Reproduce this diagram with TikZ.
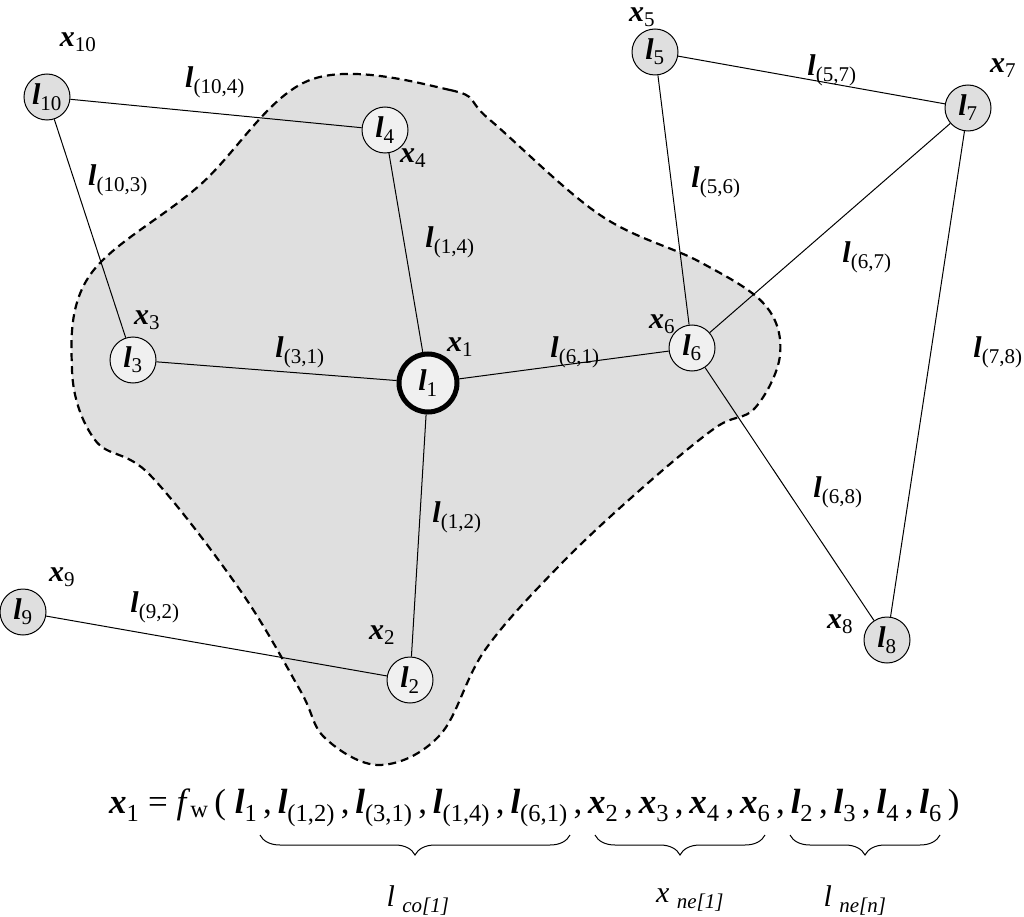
\documentclass[tikz,border=0pt]{standalone}
\usepackage{fontspec}
\setmainfont{Liberation Serif}
\usetikzlibrary{decorations.pathreplacing}
\newcommand{\bl}[1]{{\bfseries\itshape l}\textsubscript{\normalfont #1}}
\newcommand{\bx}[1]{{\bfseries\itshape x}\textsubscript{\normalfont #1}}
\begin{document}
\begin{tikzpicture}[x=1pt,y=-1pt,font=\fontsize{30}{34}\selectfont,
  nd/.style={circle,draw,line width=1pt,minimum size=46pt,inner sep=0pt},
  gn/.style={nd,fill=gray!25},
  wn/.style={nd,fill=gray!12},
  lab/.style={inner sep=1pt},
  ed/.style={draw,line width=1pt}]
\useasboundingbox (0,0) rectangle (1024,917);
\def\blob{(310,80)(450,90)(490,120)(600,215)(700,262)(765,305)(780,355)(755,408)(715,428)(640,490)(560,565)(485,650)(440,735)(380,765)(325,738)(300,690)(240,590)(150,475)(95,440)(72,370)(90,275)(200,185)}
\fill[gray!25] plot[smooth cycle,tension=0.6] coordinates{\blob};
\draw[line width=2.2pt,dash pattern=on 8pt off 5pt] plot[smooth cycle,tension=0.6] coordinates{\blob};
\node[gn] (n10) at (47,97) {\bl{10}};
\node[wn] (n4) at (385,130) {\bl{4}};
\node[wn] (n3) at (133,360) {\bl{3}};
\node[wn,line width=5pt,minimum size=58pt] (n1) at (428,383) {\bl{1}};
\node[wn] (n6) at (692,348) {\bl{6}};
\node[gn] (n5) at (655,52) {\bl{5}};
\node[gn] (n7) at (968,108) {\bl{7}};
\node[gn] (n9) at (23,612) {\bl{9}};
\node[wn] (n2) at (410,680) {\bl{2}};
\node[gn] (n8) at (887,640) {\bl{8}};
\draw[ed] (n10)--(n4); \draw[ed] (n10)--(n3); \draw[ed] (n4)--(n1);
\draw[ed] (n3)--(n1); \draw[ed] (n6)--(n1); \draw[ed] (n1)--(n2);
\draw[ed] (n9)--(n2); \draw[ed] (n5)--(n7); \draw[ed] (n5)--(n6);
\draw[ed] (n6)--(n7); \draw[ed] (n7)--(n8); \draw[ed] (n6)--(n8);
\node[lab] (t10) at (78,42) {\bx{10}};
\node[lab] (t4) at (413,158) {\bx{4}};
\node[lab] (t3) at (147,320) {\bx{3}};
\node[lab] (t1) at (460,347) {\bx{1}};
\node[lab] (t6) at (662,324) {\bx{6}};
\node[lab] (t5) at (642,17) {\bx{5}};
\node[lab] (t7) at (1003,68) {\bx{7}};
\node[lab] (t9) at (62,577) {\bx{9}};
\node[lab] (t2) at (382,635) {\bx{2}};
\node[lab] (t8) at (840,624) {\bx{8}};
\node[lab] (e1) at (215,82) {\bl{(10,4)}};
\node[lab] (e2) at (118,180) {\bl{(10,3)}};
\node[lab] (e3) at (450,242) {\bl{(1,4)}};
\node[lab] (e4) at (300,352) {\bl{(3,1)}};
\node[lab] (e5) at (575,352) {\bl{(6,1)}};
\node[lab] (e6) at (716,182) {\bl{(5,6)}};
\node[lab] (e7) at (832,70) {\bl{(5,7)}};
\node[lab] (e8) at (867,257) {\bl{(6,7)}};
\node[lab] (e9) at (998,352) {\bl{(7,8)}};
\node[lab] (e10) at (838,492) {\bl{(6,8)}};
\node[lab] (e11) at (457,517) {\bl{(1,2)}};
\node[lab] (e12) at (155,607) {\bl{(9,2)}};
\node[lab,anchor=west,font=\fontsize{35}{40}\selectfont] (f) at (108,808) {\bx{1} = \textit{f}\textsubscript{w}\,( \bl{1}\,,\,\bl{(1,2)}\,,\,\bl{(3,1)}\,,\,\bl{(1,4)}\,,\,\bl{(6,1)}\,,\,\bx{2}\,,\,\bx{3}\,,\,\bx{4}\,,\,\bx{6}\,,\,\bl{2}\,,\,\bl{3}\,,\,\bl{4}\,,\,\bl{6}\,)};
\coordinate (a1) at (260,835); \coordinate (a2) at (570,835);
\coordinate (b1) at (595,835); \coordinate (b2) at (765,835);
\coordinate (c1) at (790,835); \coordinate (c2) at (940,835);
\draw[line width=1pt,decorate,decoration={brace,mirror,amplitude=20pt}] (a1)--(a2);
\draw[line width=1pt,decorate,decoration={brace,mirror,amplitude=20pt}] (b1)--(b2);
\draw[line width=1pt,decorate,decoration={brace,mirror,amplitude=20pt}] (c1)--(c2);
\node[lab] (g1) at (418,900) {\textit{l} \textsubscript{\textit{co[1]}}};
\node[lab] (g2) at (690,900) {\textit{x} \textsubscript{\textit{ne[1]}}};
\node[lab] (g3) at (855,900) {\textit{l} \textsubscript{\textit{ne[n]}}};
\end{tikzpicture}
\end{document}
